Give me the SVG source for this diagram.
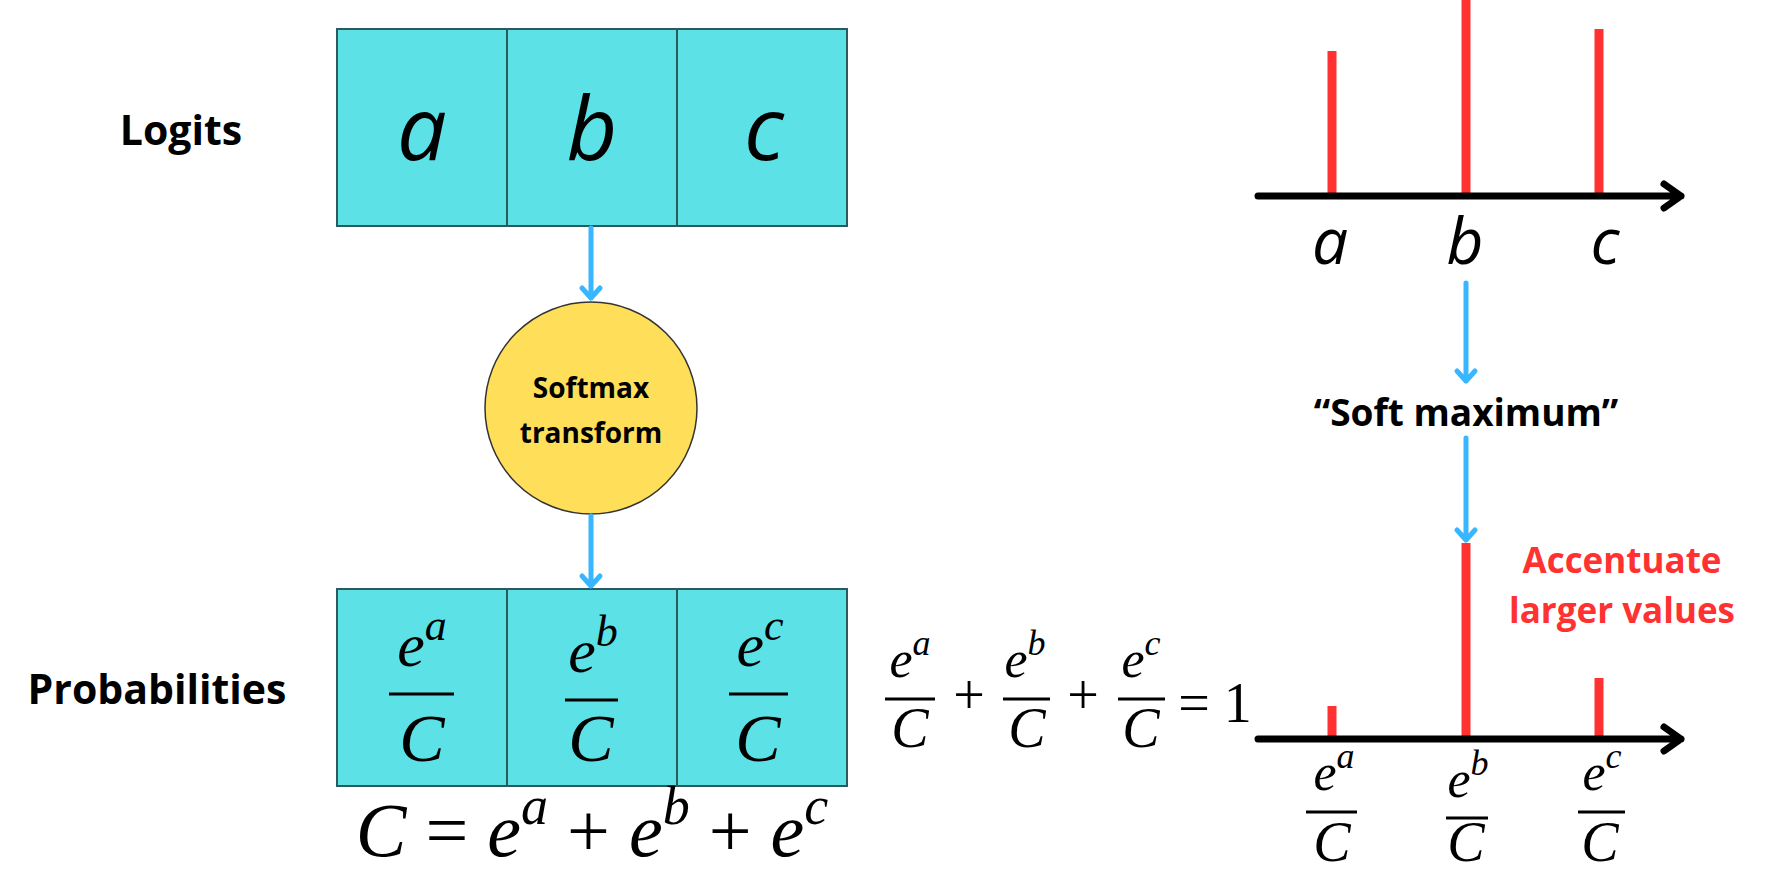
<svg xmlns="http://www.w3.org/2000/svg" width="1774" height="871" viewBox="0 0 1774 871">
<defs>
<style>
.lbl{font-family:"Open Sans","Liberation Sans",sans-serif;font-weight:bold;fill:#000}
.var{font-family:"Open Sans","Liberation Sans",sans-serif;font-style:italic;fill:#000;text-anchor:middle}
.m{font-family:"Liberation Serif",serif;fill:#000;text-anchor:middle}
.mi{font-style:italic}
.box{fill:#5ce1e6;stroke:#2a5a5c;stroke-width:2}
.bar{stroke:#000;stroke-width:3}
.blue{stroke:#38b6ff;stroke-width:5;fill:none;stroke-linecap:round;stroke-linejoin:round}
.red{stroke:#ff3131;stroke-width:9}
.axis{stroke:#000;stroke-width:7;fill:none;stroke-linecap:round;stroke-linejoin:round}
</style>
</defs>
<text class="lbl" x="181" y="145" font-size="41" text-anchor="middle">Logits</text>
<text class="lbl" x="157" y="704" font-size="41" text-anchor="middle">Probabilities</text>
<g id="logits">
<rect class="box" x="337" y="29" width="170" height="197"/>
<rect class="box" x="507" y="29" width="170" height="197"/>
<rect class="box" x="677" y="29" width="170" height="197"/>
<text class="var" x="422" y="160" font-size="88">a</text>
<text class="var" x="592" y="160" font-size="88">b</text>
<text class="var" x="764" y="160" font-size="88">c</text>
</g>
<g id="softmax">
<circle cx="591" cy="408" r="106" fill="#ffde59" stroke="#333" stroke-width="1.5"/>
<text class="lbl" x="591" y="398" font-size="28" text-anchor="middle">Softmax</text>
<text class="lbl" x="591" y="443" font-size="28" text-anchor="middle">transform</text>
</g>
<g id="probs">
<rect class="box" x="337" y="589" width="170" height="197"/>
<rect class="box" x="507" y="589" width="170" height="197"/>
<rect class="box" x="677" y="589" width="170" height="197"/>
<text class="m" x="422" y="666" font-size="62"><tspan class="mi">e</tspan><tspan class="mi" font-size="44" dy="-26">a</tspan></text>
<line class="bar" x1="389" y1="694" x2="454" y2="694"/>
<text class="m mi" x="422" y="761" font-size="68">C</text>
<text class="m" x="593" y="672" font-size="62"><tspan class="mi">e</tspan><tspan class="mi" font-size="44" dy="-26">b</tspan></text>
<line class="bar" x1="565" y1="700" x2="618" y2="700"/>
<text class="m mi" x="591" y="761" font-size="68">C</text>
<text class="m" x="760" y="666" font-size="62"><tspan class="mi">e</tspan><tspan class="mi" font-size="44" dy="-26">c</tspan></text>
<line class="bar" x1="729" y1="694" x2="788" y2="694"/>
<text class="m mi" x="758" y="761" font-size="68">C</text>
<text class="m" x="592" y="856" font-size="76"><tspan class="mi">C</tspan> = <tspan class="mi">e</tspan><tspan class="mi" font-size="54" dy="-32">a</tspan><tspan dy="32"> + </tspan><tspan class="mi">e</tspan><tspan class="mi" font-size="54" dy="-32">b</tspan><tspan dy="32"> + </tspan><tspan class="mi">e</tspan><tspan class="mi" font-size="54" dy="-32">c</tspan></text>
</g>
<g id="sum">
<text class="m" x="910" y="677" font-size="52"><tspan class="mi">e</tspan><tspan class="mi" font-size="36" dy="-22">a</tspan></text>
<line class="bar" x1="885" y1="699" x2="935" y2="699"/>
<text class="m mi" x="910" y="747" font-size="56">C</text>
<text class="m" x="969" y="714" font-size="56">+</text>
<text class="m" x="1025" y="677" font-size="52"><tspan class="mi">e</tspan><tspan class="mi" font-size="36" dy="-22">b</tspan></text>
<line class="bar" x1="1003" y1="699" x2="1050" y2="699"/>
<text class="m mi" x="1027" y="747" font-size="56">C</text>
<text class="m" x="1083" y="714" font-size="56">+</text>
<text class="m" x="1141" y="677" font-size="52"><tspan class="mi">e</tspan><tspan class="mi" font-size="36" dy="-22">c</tspan></text>
<line class="bar" x1="1118" y1="699" x2="1165" y2="699"/>
<text class="m mi" x="1141" y="747" font-size="56">C</text>
<text class="m" x="1215" y="722" font-size="56">= 1</text>
</g>
<g id="chart-top">
<line class="red" x1="1332" y1="51" x2="1332" y2="196"/>
<line class="red" x1="1466" y1="0" x2="1466" y2="196"/>
<line class="red" x1="1599" y1="29" x2="1599" y2="196"/>
<path class="axis" d="M1258 196 H1681 M1664 184 L1681 196 L1664 208"/>
<text class="var" x="1330" y="264" font-size="64">a</text>
<text class="var" x="1465" y="264" font-size="64">b</text>
<text class="var" x="1605" y="264" font-size="64">c</text>
</g>
<text class="lbl" x="1466" y="426" font-size="37" text-anchor="middle">“Soft maximum”</text>
<g id="chart-bottom">
<line class="red" x1="1332" y1="706" x2="1332" y2="739"/>
<line class="red" x1="1466" y1="543" x2="1466" y2="739"/>
<line class="red" x1="1599" y1="678" x2="1599" y2="739"/>
<path class="axis" d="M1258 739 H1681 M1664 727 L1681 739 L1664 751"/>
<text class="m" x="1334" y="790" font-size="52"><tspan class="mi">e</tspan><tspan class="mi" font-size="36" dy="-22">a</tspan></text>
<line class="bar" x1="1306" y1="812" x2="1357" y2="812"/>
<text class="m mi" x="1332" y="861" font-size="56">C</text>
<text class="m" x="1468" y="797" font-size="52"><tspan class="mi">e</tspan><tspan class="mi" font-size="36" dy="-22">b</tspan></text>
<line class="bar" x1="1446" y1="818" x2="1488" y2="818"/>
<text class="m mi" x="1466" y="861" font-size="56">C</text>
<text class="m" x="1602" y="790" font-size="52"><tspan class="mi">e</tspan><tspan class="mi" font-size="36" dy="-22">c</tspan></text>
<line class="bar" x1="1578" y1="812" x2="1625" y2="812"/>
<text class="m mi" x="1600" y="861" font-size="56">C</text>
<text class="lbl" x="1622" y="573" font-size="35" text-anchor="middle" style="fill:#ff3131">Accentuate</text>
<text class="lbl" x="1622" y="623" font-size="35" text-anchor="middle" style="fill:#ff3131">larger values</text>
</g>
<g id="connectors">
<path class="blue" d="M591 228 V298 M582 288 L591 298 L600 288"/>
<path class="blue" d="M591 516 V586 M582 576 L591 586 L600 576"/>
<path class="blue" d="M1466 283 V381 M1457 371 L1466 381 L1475 371"/>
<path class="blue" d="M1466 438 V540 M1457 530 L1466 540 L1475 530"/>
</g>
</svg>
